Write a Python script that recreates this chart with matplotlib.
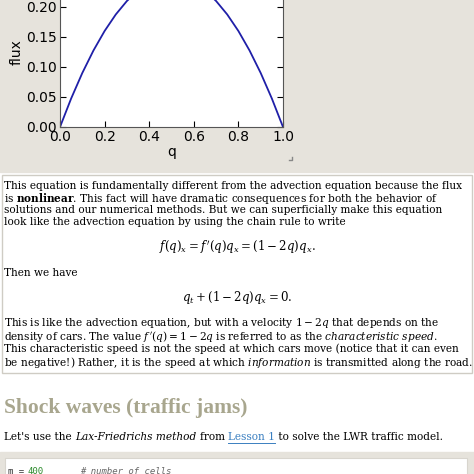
import matplotlib
matplotlib.use("Agg")
import matplotlib.pyplot as plt
from matplotlib.patches import Rectangle

q = [0.0, 0.05, 0.1, 0.15, 0.2, 0.25, 0.3, 0.35, 0.4, 0.45, 0.5,
     0.55, 0.6, 0.65, 0.7, 0.75, 0.8, 0.85, 0.9, 0.95, 1.0]
flux = [0.0, 0.0475, 0.09, 0.1275, 0.16, 0.1875, 0.21, 0.2275, 0.24, 0.2475, 0.25,
        0.2475, 0.24, 0.2275, 0.21, 0.1875, 0.16, 0.1275, 0.09, 0.0475, 0.0]
xticks = [0.0, 0.2, 0.4, 0.6, 0.8, 1.0]
yticks = [0.0, 0.05, 0.10, 0.15, 0.20, 0.25]

W = H = 474
fig = plt.figure(figsize=(4.74, 4.74), dpi=100)
fig.patch.set_facecolor("white")

def fx(px): return px / W
def fy(py): return 1 - py / H

bg = fig.add_axes([0, 0, 1, 1]); bg.set_xlim(0, W); bg.set_ylim(H, 0); bg.axis("off")
bg.add_patch(Rectangle((0, 0), W, 172, color="#e6e3dc"))
bg.add_patch(Rectangle((2, 175), W - 4, 198, facecolor="white", edgecolor="#cfccc4", lw=1))
bg.add_patch(Rectangle((0, 452), W, 30, color="#e6e3dc"))
bg.add_patch(Rectangle((5, 458), W - 12, 30, facecolor="white", edgecolor="#d8d5ce", lw=0.8))
bg.plot([289, 292, 292], [160, 160, 157], color="#888", lw=1)

top = -23; bot = 127
ax = fig.add_axes([fx(60), fy(bot), fx(283 - 60), (bot - top) / H])
ax.plot(q, flux, color="#1f1fa8", lw=1.3)
ax.set_xlim(0, 1); ax.set_ylim(0, 0.25)
ax.set_xticks(xticks); ax.set_yticks(yticks)
ax.set_xticklabels(["%.1f" % v for v in xticks])
ax.set_yticklabels(["%.2f" % v for v in yticks])
ax.tick_params(labelsize=10, direction="in", length=4, pad=2, top=True, right=True)
ax.set_xlabel("q", fontsize=10, labelpad=1)
ax.set_ylabel("flux", fontsize=10, labelpad=2)
for s in ax.spines.values():
    s.set_color("#555")

serif = "DejaVu Serif"
fs = 7.6
lines = [
    (186, "This equation is fundamentally different from the advection equation because the flux"),
    (198, r"is $\mathbf{nonlinear}$. This fact will have dramatic consequences for both the behavior of"),
    (210, "solutions and our numerical methods. But we can superficially make this equation"),
    (222, "look like the advection equation by using the chain rule to write"),
    (273, "Then we have"),
    (323, r"This is like the advection equation, but with a velocity $1-2q$ that depends on the"),
    (336, r"density of cars. The value $f\,'(q)=1-2q$ is referred to as the $\it{characteristic\ speed}$."),
    (349, "This characteristic speed is not the speed at which cars move (notice that it can even"),
    (362, r"be negative!) Rather, it is the speed at which $\it{information}$ is transmitted along the road."),
]
for y, t in lines:
    fig.text(fx(4), fy(y), t, fontsize=fs, family=serif, va="center", ha="left",
             math_fontfamily="dejavuserif")
fig.text(0.5, fy(247), r"$f(q)_x = f\,'(q)q_x = (1-2q)q_x.$", fontsize=8.5, ha="center",
         va="center", math_fontfamily="dejavuserif")
fig.text(0.5, fy(297), r"$q_t + (1-2q)q_x = 0.$", fontsize=8.5, ha="center",
         va="center", math_fontfamily="dejavuserif")

fig.text(fx(4), fy(408), "Shock waves (traffic jams)", fontsize=15.5, family="Liberation Serif",
         fontweight="bold", color="#a8a68e", va="center")

r = fig.canvas.get_renderer()
y0 = fy(437)
x = 4
pieces = [("Let's use the ", {}), ("Lax-Friedrichs method ", {"style": "italic"}),
          ("from ", {}), ("Lesson 1", {"color": "#3a7fc0"}), (" to solve the LWR traffic model.", {})]
for txt, kw in pieces:
    t = fig.text(fx(x), y0, txt, fontsize=fs, family=serif, va="center", **kw)
    bb = t.get_window_extent(r)
    if txt == "Lesson 1":
        bg.plot([x, x + bb.width], [443, 443], color="#3a7fc0", lw=0.7)
    x += bb.width

fig.text(fx(8), fy(471), "m = ", fontsize=6.5, family="DejaVu Sans Mono", va="center", color="#333")
fig.text(fx(28), fy(471), "400", fontsize=6.5, family="DejaVu Sans Mono", va="center", color="#2a8a2a")
fig.text(fx(80), fy(471), "# number of cells", fontsize=6.5, family="DejaVu Sans Mono",
         va="center", color="#666", style="italic")

fig.savefig("out.png", dpi=100, facecolor=fig.get_facecolor())
